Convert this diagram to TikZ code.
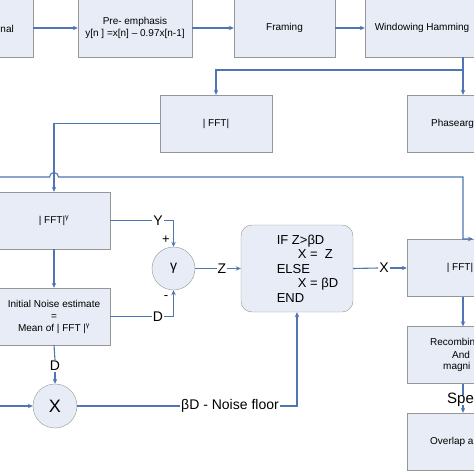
\documentclass[tikz,border=0pt]{standalone}
\usepackage{fontspec}
\setmainfont{Liberation Sans}
\usepackage{xcolor}
\usepackage{tikz}
\usetikzlibrary{arrows.meta,calc}
\definecolor{flowcol}{RGB}{79,117,178}
\definecolor{boxfill}{RGB}{231,236,246}
\definecolor{boxline}{RGB}{150,150,150}
\tikzset{
  proc box/.style={rectangle,draw=boxline,fill=boxfill,minimum width=112pt,minimum height=57pt,inner sep=2pt,font=\fontsize{10}{12}\selectfont,align=center},
  rule box/.style={proc box,rounded corners=11pt,minimum height=87pt,font=\fontsize{13}{14.6}\selectfont,align=left},
  op node/.style={circle,draw=boxline,fill=boxfill,minimum size=43pt,inner sep=0pt,font=\fontsize{14}{16}\selectfont},
  sig label/.style={inner sep=1pt,font=\fontsize{14}{16}\selectfont},
  sign label/.style={inner sep=0pt,font=\fontsize{13}{14}\selectfont},
  cut text/.style={anchor=west,inner sep=0pt,font=\fontsize{10}{12}\selectfont},
  flow/.style={draw=flowcol,line width=1.1pt},
  flow arrow/.style={flow,-{Stealth[length=5pt,width=4.5pt]}}
}
\begin{document}
\begin{tikzpicture}[x=1pt,y=-1pt]
  \useasboundingbox (0,0) rectangle (474,474);
  \clip (0,0) rectangle (474,474);
  % top row
  \node[proc box,minimum width=66pt,minimum height=58pt] (sig) at (0,28) {};
  \node[cut text,anchor=east] (sigtext) at (14,29) {nal};
  \node[proc box,minimum width=114pt,minimum height=58pt] (pre) at (135,28) {Pre- emphasis\\y[n ] =x[n] – 0.97x[n-1]};
  \node[proc box,minimum width=101pt,minimum height=58pt] (fram) at (284.5,28) {Framing};
  \node[proc box,minimum width=114pt,minimum height=58pt] (win) at (422,28) {Windowing Hamming};
  % spectra
  \node[proc box] (fft) at (216,123.5) {| FFT|};
  \node[proc box] (phase) at (463,123.5) {};
  \node[cut text] (phasetext) at (431,123.5) {Phasearg};
  \node[proc box] (fftg) at (54,220.5) {| FFT|\textsuperscript{γ}};
  \node[proc box] (noise) at (54,316.5) {Initial Noise estimate\\=\\Mean of | FFT |\textsuperscript{γ}};
  \node[op node] (gam) at (173.5,268.5) {γ};
  \node[op node,minimum size=44pt,font=\fontsize{18}{20}\selectfont] (xc) at (55,406) {X};
  \node[rule box] (rule) at (297,268.5) {\hspace*{21pt}IF Z>βD\\\hspace*{42pt}X =\ \ Z\\\hspace*{21pt}ELSE\\\hspace*{42pt}X = βD\\\hspace*{21pt}END};
  \node[proc box] (ffti) at (463,268) {| FFT|\hspace*{6pt}};
  \node[proc box] (recomb) at (463,355) {};
  \node[cut text] (rectext) at (430,342) {Recombin};
  \node[cut text] (andtext) at (452,355) {And};
  \node[cut text] (magtext) at (443,367) {magni};
  \node[proc box] (ola) at (463,441.5) {};
  \node[cut text] (olatext) at (430,442) {Overlap a};
  % labels on the lines
  \node[sig label] (ylab) at (158,220.5) {Y};
  \node[sig label] (dlab) at (158,316.5) {D};
  \node[sign label] (plus) at (166,240) {+};
  \node[sign label] (minus) at (166,298) {-};
  \node[sig label] (zlab) at (222,268.5) {Z};
  \node[sig label] (xlab) at (384,268) {X};
  \node[sig label] (dvlab) at (55,366) {D};
  \node[sig label] (floor) at (230,406) {βD - Noise floor};
  \node[sig label,anchor=west,inner sep=0pt,font=\fontsize{15}{17}\selectfont] (spe) at (447,400) {Spe};
  \coordinate (split) at (463,70);
  \coordinate (phin) at (-5,177);
  \coordinate (phbend) at (463,239);
  \coordinate (phout) at (473,239);
  \coordinate (xin) at (-5,406);
  % connectors
  \draw[flow arrow] (sig) -- (pre);
  \draw[flow arrow] (pre) -- (fram);
  \draw[flow arrow] (fram) -- (win);
  \draw[flow arrow] (win.south -| split) -- (phase.north);
  \draw[flow arrow] (split) -| (fft.north);
  \draw[flow arrow] (fft.west) -| (fftg.north);
  \draw[flow arrow] (phin) -- ([xshift=-4.5pt]phin -| fftg.north) arc[start angle=180,end angle=0,radius=4.5pt] -- (phin -| phbend) -- (phbend) -- (phout);
  \draw[flow arrow] (fftg) -- (noise);
  \draw[flow] (fftg.east) -- (ylab.west);
  \draw[flow arrow] (ylab.east) -| (gam.north);
  \draw[flow] (noise.east) -- (dlab.west);
  \draw[flow arrow] (dlab.east) -| (gam.south);
  \draw[flow] (gam.east) -- (zlab.west);
  \draw[flow arrow] (zlab.east) -- (rule.west);
  \draw[flow] (rule.east) -- (xlab.west);
  \draw[flow arrow] (xlab.east) -- (ffti.west);
  \draw[flow] (noise.south) -- (dvlab.north);
  \draw[flow arrow] (dvlab.south) -- (xc.north);
  \draw[flow arrow] (xin) -- (xc.west);
  \draw[flow] (xc.east) -- (floor.west);
  \draw[flow arrow] (floor.east) -| (rule.south);
  \draw[flow arrow] (ffti) -- (recomb);
  \draw[flow] (recomb.south) -- ([yshift=-2pt]recomb.south |- spe.north);
  \draw[flow arrow] ([yshift=2pt]ola.north |- spe.south) -- (ola.north);
\end{tikzpicture}
\end{document}
